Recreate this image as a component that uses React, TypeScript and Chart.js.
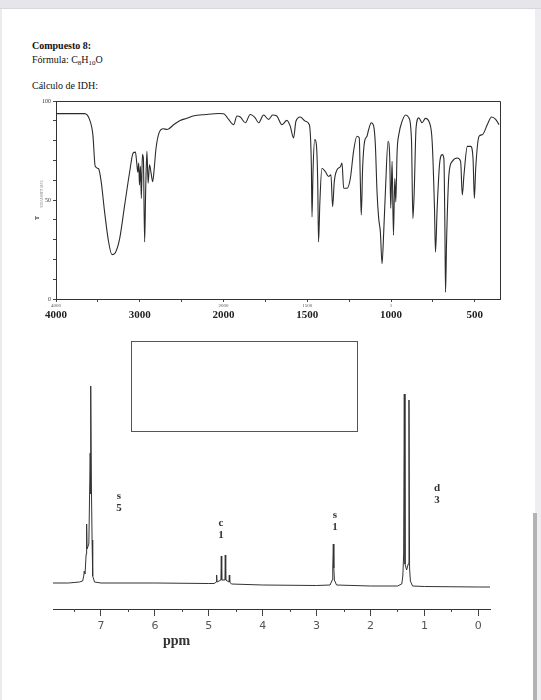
import React, { useEffect, useRef } from 'react';
import { Chart, registerables } from 'chart.js';
Chart.register(...registerables);

// ---------- IR spectrum data (wavenumber cm-1, % transmittance) ----------
const irWavenumbers = [
  4000, 3660, 3600, 3560, 3532, 3492, 3460, 3420, 3372, 3332, 3292, 3240, 3180, 3120, 3080, 3052,
  3036, 3024, 3012, 3004, 2992, 2981, 2969, 2957, 2942, 2930, 2915, 2900, 2884, 2865, 2846, 2827,
  2808, 2769, 2719, 2673, 2596, 2519, 2442, 2365, 2211, 2057, 2000,
  1970, 1940, 1920, 1900, 1870, 1841, 1811, 1791, 1761, 1731, 1707, 1682, 1652, 1622, 1602, 1582,
  1568, 1542, 1512, 1488, 1476, 1472, 1466, 1456, 1446, 1438, 1433, 1425, 1413, 1393, 1373, 1359,
  1349, 1339, 1323, 1303, 1293, 1283, 1263, 1243, 1224, 1204, 1190, 1184, 1178, 1170, 1158, 1144,
  1134, 1118, 1104, 1094, 1084, 1074, 1064, 1054, 1044, 1034, 1018, 1008, 1002, 994, 986, 978,
  972, 964, 954, 934, 914, 894, 878, 870, 862, 851, 835, 815, 795, 771, 755, 741,
  735, 725, 711, 695, 685, 679, 675, 669, 655, 635, 605, 585, 575, 565, 545, 525,
  511, 503, 495, 475, 455, 426, 400, 376, 356,
];
const irTransmittance = [
  93.6, 93.6, 90.7, 83, 67, 65.8, 59, 44, 28.8, 22.4, 23.4, 30.5, 47.5, 64.4, 73.7, 74.2,
  68.6, 64, 68.6, 57.6, 67, 50.8, 72.9, 71, 28.8, 54, 74.6, 58.5, 67.8, 63.6, 59.3, 66,
  75.4, 84, 86, 85.6, 88, 90.2, 91.2, 92.4, 93.2, 93.7, 93.6,
  90.7, 88, 92.4, 91.9, 89, 93.2, 91.5, 89, 92.9, 90.7, 92.9, 92.4, 88, 90.2, 87.3, 81.4,
  89.8, 91.9, 89.8, 88, 67.8, 41.5, 64.4, 80.5, 78, 59.3, 28.8, 49, 66, 64.4, 61.9, 62.7,
  46.6, 59.3, 65.2, 66.8, 68.6, 55.9, 55.9, 61, 74.6, 82.2, 81.4, 61, 42.4, 66, 79.7, 82.2,
  85.6, 89, 87.3, 78, 54.2, 40.7, 33.9, 17.8, 33.9, 54.2, 79.7, 71, 45.8, 69.5, 32.2, 61,
  49, 74.6, 83, 89.8, 92.9, 91.5, 79.7, 40.7, 54.2, 86.4, 91.5, 89, 91.2, 89, 79.7, 45.8,
  23.7, 45.8, 67.8, 72.9, 71, 37.3, 3.4, 28.8, 62.7, 69.5, 71.2, 69.5, 52.5, 62.7, 77.1, 77.1,
  71, 50.8, 66, 82.2, 83, 88, 91.9, 90.7, 88,
];
const irTickLabels = [4000, 3000, 2000, 1500, 1000, 500];
const irTickMarks = [4000, 3500, 3000, 2500, 2000, 1750, 1500, 1250, 1000, 750, 500];
const irSmallLabels = ['4000', '2000', '1500', '1'];
const irSmallLabelAt = [4000, 2000, 1500, 1000];
const irYLabels = [0, 50, 100];

// ---------- 1H NMR spectrum data (ppm, intensity) ----------
const nmrPpm = [
  7.89, 7.6, 7.4, 7.34, 7.32, 7.31, 7.295, 7.275, 7.266, 7.258, 7.225, 7.2, 7.194, 7.186, 7.178,
  7.165, 7.158, 7.15, 7.142, 7.12, 7.0, 6.0, 5.0, 4.9, 4.86, 4.854, 4.847, 4.775, 4.768, 4.76,
  4.70, 4.694, 4.686, 4.626, 4.619, 4.612, 4.58, 4.0, 3.0, 2.75, 2.71, 2.70, 2.69, 2.68, 2.67,
  2.63, 2.0, 1.5, 1.42, 1.40, 1.385, 1.373, 1.36, 1.33, 1.30, 1.286, 1.275, 1.26, 1.22, 1.0, 0, -0.217,
];
const nmrIntensity = [
  1, 1, 2, 3, 8, 13, 10, 30, 60, 35, 40, 131, 90, 198, 100,
  44, 20, 8, 6, 2, 1, 1, 0.5, 0.5, 2, 9, 2, 4, 28, 4,
  4, 29, 4, 2, 9, 2, 0, -1, -1.5, -1, 4, 16, 40, 16, 4,
  -1, -2, -2, 0, 8, 30, 190, 20, 14, 20, 184, 16, 3, -2, -2.5, -3, -3,
];
const nmrMajorTicks = [0, 1, 2, 3, 4, 5, 6, 7];
const nmrMinorTicks = [0.5, 1.5, 2.5, 3.5, 4.5, 5.5, 6.5, 7.5];
const nmrMultiplicity = ['s', 'c', 's', 'd'];
const nmrIntegration = ['5', '1', '1', '3'];

const toU = (w: number) => (w >= 2000 ? (4000 - w) / 2 : 1000 + (2000 - w));
const fromU = (u: number) => (u <= 1000 ? 4000 - 2 * u : 2000 - (u - 1000));

const SERIF = "'Liberation Serif', 'Times New Roman', serif";

function IRChart() {
  const ref = useRef<HTMLCanvasElement>(null);
  useEffect(() => {
    if (!ref.current) return;
    const data = irWavenumbers.map((w, i) => ({ x: toU(w), y: irTransmittance[i] }));
    const irPlugin = {
      id: 'irFrame',
      afterDraw(chart: any) {
        const { ctx, chartArea: a, scales } = chart;
        ctx.save();
        ctx.strokeStyle = '#333';
        ctx.lineWidth = 1;
        ctx.beginPath();
        ctx.moveTo(a.left, a.top + 0.5);
        ctx.lineTo(a.right + 0.5, a.top + 0.5);
        ctx.lineTo(a.right + 0.5, a.bottom);
        ctx.stroke();
        ctx.fillStyle = '#555';
        ctx.font = `5px ${SERIF}`;
        ctx.textAlign = 'center';
        ctx.textBaseline = 'middle';
        irSmallLabels.forEach((t, i) => {
          ctx.fillText(t, scales.x.getPixelForValue(toU(irSmallLabelAt[i])), a.bottom + 7);
        });
        ctx.translate(a.left - 19, (a.top + a.bottom) / 2 + 18);
        ctx.rotate(-Math.PI / 2);
        ctx.font = `bold 6px ${SERIF}`;
        ctx.fillStyle = '#333';
        ctx.fillText('T', 0, 0);
        ctx.font = `3px ${SERIF}`;
        ctx.fillStyle = '#888';
        ctx.fillText('%TRANSMITTANCE', 24, 5);
        ctx.restore();
      },
    };
    const chart = new Chart(ref.current, {
      type: 'line',
      data: {
        datasets: [
          {
            data,
            borderColor: '#2b2b2b',
            borderWidth: 1.1,
            pointRadius: 0,
            cubicInterpolationMode: 'monotone',
            fill: false,
          },
        ],
      },
      options: {
        animation: false,
        responsive: false,
        devicePixelRatio: 1,
        events: [],
        layout: { padding: { top: 11, right: 41, left: 0, bottom: 0 } },
        plugins: { legend: { display: false }, tooltip: { enabled: false } },
        scales: {
          x: {
            type: 'linear',
            min: 0,
            max: 2650,
            afterFit: (s: any) => { s.height = 31; },
            afterBuildTicks: (s: any) => { s.ticks = irTickMarks.map((w) => ({ value: toU(w) })); },
            grid: { drawOnChartArea: false, tickLength: 3, color: '#444' },
            border: { display: true, color: '#333', width: 1 },
            ticks: {
              autoSkip: false,
              maxRotation: 0,
              padding: 7,
              color: '#222',
              font: { family: SERIF, size: 11, weight: 'bold' },
              callback: (v: any) => {
                const w = Math.round(fromU(Number(v)));
                return irTickLabels.includes(w) ? String(w) : '';
              },
            },
          },
          y: {
            min: 0,
            max: 100,
            afterFit: (s: any) => { s.width = 56; },
            grid: { drawOnChartArea: false, tickLength: 3, color: '#444' },
            border: { display: true, color: '#333', width: 1 },
            ticks: {
              stepSize: 10,
              padding: 2,
              color: '#333',
              font: { family: SERIF, size: 6 },
              callback: (v: any) => (irYLabels.includes(Number(v)) ? String(v) : ''),
            },
          },
        },
      },
      plugins: [irPlugin],
    } as any);
    return () => chart.destroy();
  }, []);
  return (
    <canvas
      ref={ref}
      width={541}
      height={240}
      style={{ position: 'absolute', left: 0, top: 90, width: 541, height: 240 }}
    />
  );
}

function NMRChart() {
  const ref = useRef<HTMLCanvasElement>(null);
  useEffect(() => {
    if (!ref.current) return;
    const data = nmrPpm.map((p, i) => ({ x: p, y: nmrIntensity[i] }));
    const minorPlugin = {
      id: 'nmrMinor',
      afterDraw(chart: any) {
        const { ctx, chartArea: a, scales } = chart;
        ctx.save();
        ctx.strokeStyle = '#444';
        ctx.lineWidth = 1;
        ctx.beginPath();
        nmrMinorTicks.forEach((v) => {
          const px = Math.round(scales.x.getPixelForValue(v)) + 0.5;
          ctx.moveTo(px, a.bottom);
          ctx.lineTo(px, a.bottom + 3);
        });
        ctx.stroke();
        ctx.restore();
      },
    };
    const chart = new Chart(ref.current, {
      type: 'line',
      data: {
        datasets: [
          {
            data,
            borderColor: '#333',
            borderWidth: 1,
            pointRadius: 0,
            tension: 0,
            fill: false,
          },
        ],
      },
      options: {
        animation: false,
        responsive: false,
        devicePixelRatio: 1,
        events: [],
        layout: { padding: { top: 13, right: 51, left: 53, bottom: 0 } },
        plugins: { legend: { display: false }, tooltip: { enabled: false } },
        scales: {
          x: {
            type: 'linear',
            reverse: true,
            min: -0.217,
            max: 7.89,
            afterFit: (s: any) => { s.height = 51; },
            afterBuildTicks: (s: any) => { s.ticks = nmrMajorTicks.map((v) => ({ value: v })); },
            grid: { drawOnChartArea: false, tickLength: 7, color: '#444' },
            border: { display: true, color: '#333', width: 1 },
            ticks: {
              autoSkip: false,
              maxRotation: 0,
              padding: 4,
              color: '#555',
              font: { family: "'DejaVu Sans', sans-serif", size: 11 },
              callback: (v: any) => String(v),
            },
          },
          y: { display: false, min: -25, max: 201 },
        },
      },
      plugins: [minorPlugin],
    } as any);
    return () => chart.destroy();
  }, []);
  return (
    <canvas
      ref={ref}
      width={541}
      height={290}
      style={{ position: 'absolute', left: 0, top: 370, width: 541, height: 290 }}
    />
  );
}

const labelPos = [
  { x: 119, y: 490 },
  { x: 221, y: 517 },
  { x: 335, y: 509 },
  { x: 437, y: 482 },
];

export default function App() {
  const txt: React.CSSProperties = {
    position: 'absolute',
    left: 32,
    fontFamily: SERIF,
    fontSize: 10,
    lineHeight: '10px',
    color: '#111',
    whiteSpace: 'nowrap',
  };
  const sub: React.CSSProperties = { fontSize: 7, position: 'relative', top: 2 };
  return (
    <div
      style={{
        position: 'absolute',
        left: 0,
        top: 0,
        width: 541,
        height: 700,
        background: '#fff',
        overflow: 'hidden',
      }}
    >
      <div style={{ position: 'absolute', left: 0, top: 0, width: 541, height: 8, background: '#e6e5ea', borderBottom: '1px solid #d6d6db' }} />
      <div style={{ position: 'absolute', left: 0, top: 9, width: 2, height: 691, background: '#ebebef' }} />
      <div style={{ position: 'absolute', left: 535, top: 9, width: 6, height: 691, background: '#eeeef2' }} />
      <div style={{ position: 'absolute', left: 533, top: 513, width: 4, height: 187, background: '#b3b3b6' }} />

      <div style={{ ...txt, top: 41, fontWeight: 'bold' }}>Compuesto 8:</div>
      <div style={{ ...txt, top: 55 }}>
        Fórmula: C<span style={sub}>8</span>H<span style={sub}>10</span>O
      </div>
      <div style={{ ...txt, top: 81 }}>Cálculo de IDH:</div>

      <IRChart />

      <div
        style={{
          position: 'absolute',
          left: 131,
          top: 341,
          width: 225,
          height: 89,
          border: '1.5px solid #555',
        }}
      />

      <NMRChart />

      {labelPos.map((p, i) => (
        <div
          key={i}
          style={{
            position: 'absolute',
            left: p.x - 10,
            top: p.y,
            width: 20,
            textAlign: 'center',
            fontFamily: SERIF,
            fontWeight: 'bold',
            fontSize: 11,
            lineHeight: '11.5px',
            color: '#333',
          }}
        >
          {nmrMultiplicity[i]}
          <br />
          {nmrIntegration[i]}
        </div>
      ))}

      <div
        style={{
          position: 'absolute',
          left: 163,
          top: 634,
          fontFamily: SERIF,
          fontWeight: 'bold',
          fontSize: 14,
          lineHeight: '14px',
          color: '#333',
        }}
      >
        ppm
      </div>
    </div>
  );
}
